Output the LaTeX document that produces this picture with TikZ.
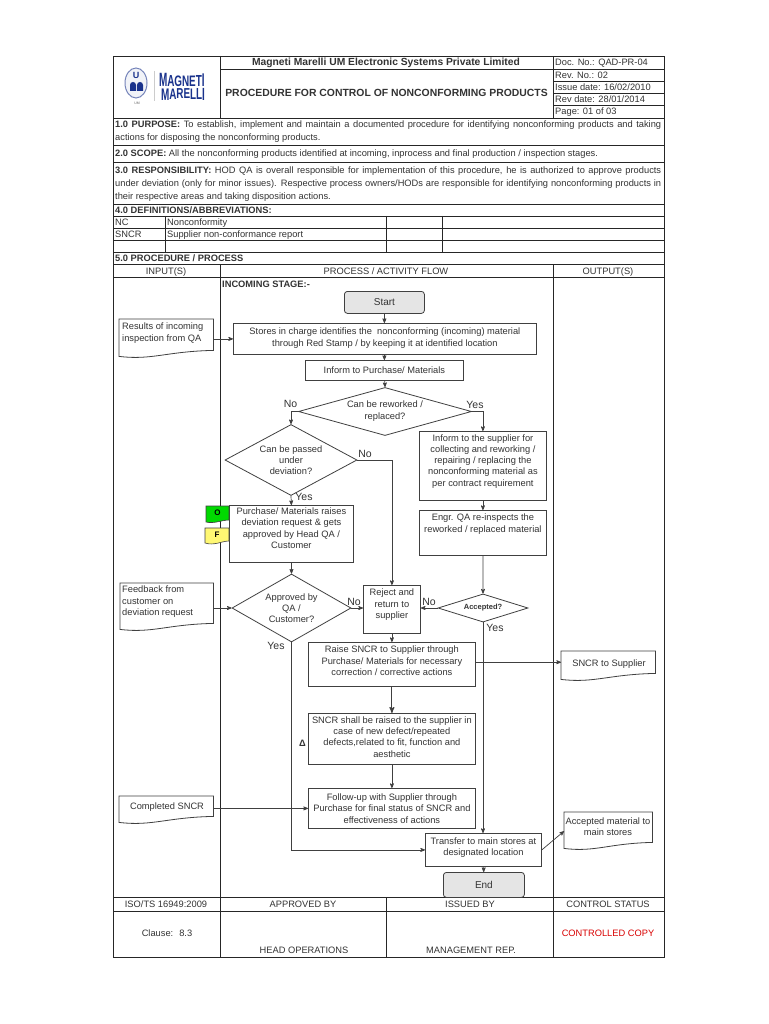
\documentclass[tikz,border=0pt]{standalone}
\usepackage{fontspec}
\setmainfont{Liberation Sans}
\usepackage{tikz}
\usetikzlibrary{arrows,shapes.geometric,calc}

\definecolor{linegray}{gray}{0.25}
\definecolor{textgray}{gray}{0.2}
\definecolor{logoblue}{RGB}{25,50,140}

\begin{document}
\begin{tikzpicture}[x=1pt,y=-1pt,>=stealth',font=\fontsize{9.3}{11.3}\selectfont,text=textgray]
  \tikzstyle{frame}=[draw=black!85,line width=0.9pt]
  \tikzstyle{flowbox}=[rectangle,draw=linegray,line width=0.8pt,fill=white,align=center,inner sep=0pt,anchor=north west]
  \tikzstyle{startend}=[flowbox,rounded corners=3pt,fill=black!10,font=\fontsize{10}{12}\selectfont]
  \tikzstyle{decision}=[draw=linegray,line width=0.8pt,fill=white]
  \tikzstyle{doctext}=[rectangle,align=left,inner sep=0pt,anchor=north west]
  \tikzstyle{celltext}=[inner sep=0pt,text height=6.6pt,text depth=0pt]
  \tikzstyle{tablecell}=[celltext,anchor=west]
  \tikzstyle{para}=[inner sep=0pt,anchor=north west,text width=546pt,align=justify,font=\fontsize{9.3}{13}\selectfont]
  \tikzstyle{tag}=[inner sep=0pt,font=\fontsize{8}{9}\selectfont\bfseries,text=black]
  \tikzstyle{answer}=[inner sep=0pt,font=\fontsize{10.5}{12}\selectfont]
  \tikzstyle{logoletter}=[inner sep=0pt,text=logoblue,xscale=.62,font=\fontsize{16}{16}\selectfont\bfseries]
  \tikzstyle{flow}=[->,draw=linegray,line width=0.7pt]
  \useasboundingbox (0,0) rectangle (768,1024);
  \fill[white] (0,0) rectangle (768,1024);

  % table frame
  \draw[frame] (113,56) rectangle (664,957);
  \foreach \y in {118,145,162,204,216,228,240,252,264,277,897,911}
    \draw[frame] (113,\y) -- (664,\y);
  \draw[frame] (220,56) -- (220,118);
  \draw[frame] (220,69) -- (553,69);
  \draw[frame] (553,56) -- (553,118);
  \foreach \y in {69,81,93,105}
    \draw[frame] (553,\y) -- (664,\y);
  \draw[frame] (165,216) -- (165,252);
  \foreach \x in {386,442} \draw[frame] (\x,216) -- (\x,252);
  \draw[frame] (220,264) -- (220,957);
  \draw[frame] (553,264) -- (553,957);
  \draw[frame] (386,897) -- (386,957);

  % logo
  \draw[logoblue!60,line width=1pt,fill=logoblue!6] (136,83) ellipse (11 and 15);
  \node[inner sep=0pt,text=logoblue,font=\fontsize{9}{9}\selectfont\bfseries] (logou) at (136,75.5) {U};
  \fill[logoblue] (130,91) -- (130,85) .. controls (130,81) and (136,81) .. (136,85) -- (136,91) -- cycle;
  \fill[logoblue] (137,91) -- (137,85) .. controls (137,81) and (143,81) .. (143,85) -- (143,91) -- cycle;
  \node[inner sep=0pt,text=black!60,font=\fontsize{3.5}{4}\selectfont] (logoum) at (137,103) {UM};
  \draw[black!20,line width=0.8pt] (154,71) -- (154,101);
  \foreach \ch/\x/\s in {M/163.2/1.2,A/170.9/1,G/178.3/.95,N/185.7/.95,E/192.5/.95,T/198.8/1,I/203.2/1.15}
    \node[logoletter,anchor=south,yscale=\s] at (\x,87) {\ch};
  \foreach \ch/\x/\s in {M/165.2/1.05,A/172.9/.95,R/180/.9,E/186.9/.9,L/193.2/.95,L/199.2/1,I/203.6/1.1}
    \node[logoletter,anchor=north,yscale=\s] at (\x,88.5) {\ch};

  % header
  \node[celltext,font=\fontsize{10.3}{12}\selectfont\bfseries] (company) at (386,62.5) {Magneti Marelli UM Electronic Systems Private Limited};
  \node[celltext,font=\fontsize{10.4}{12}\selectfont\bfseries] (title) at (386.5,93) {PROCEDURE FOR CONTROL OF NONCONFORMING PRODUCTS};
  \node[tablecell] (docno) at (555,62) {Doc. No.: QAD-PR-04};
  \node[tablecell] (revno) at (555,75) {Rev. No.: 02};
  \node[tablecell] (issue) at (555,87) {Issue date: 16/02/2010};
  \node[tablecell] (revdate) at (555,99) {Rev date: 28/01/2014};
  \node[tablecell] (page) at (555,111) {Page: 01 of 03};

  % sections
  \node[para] (purpose) at (115,120.5) {\textbf{1.0 PURPOSE:} To establish, implement and maintain a documented procedure for identifying nonconforming products and taking\linebreak actions for disposing the nonconforming products.};
  \node[tablecell] (scope) at (115,153.5) {\textbf{2.0 SCOPE:} All the nonconforming products identified at incoming, inprocess and final production / inspection stages.};
  \node[para] (resp) at (115,167) {\textbf{3.0 RESPONSIBILITY:} HOD QA is overall responsible for implementation of this procedure, he is authorized to approve products\linebreak under deviation (only for minor issues). Respective process owners/HODs are responsible for identifying nonconforming products in\linebreak their respective areas and taking disposition actions.};
  \node[tablecell,font=\fontsize{9.3}{11}\selectfont\bfseries] (defs) at (115,210) {4.0 DEFINITIONS/ABBREVIATIONS:};
  \node[tablecell] (nc) at (115,222) {NC};
  \node[tablecell] (ncdef) at (167,222) {Nonconformity};
  \node[tablecell] (sncr) at (115,234) {SNCR};
  \node[tablecell] (sncrdef) at (167,234) {Supplier non-conformance report};
  \node[tablecell,font=\fontsize{9.3}{11}\selectfont\bfseries] (proc) at (115,258) {5.0 PROCEDURE / PROCESS};
  \node[celltext] (inputs) at (166,271) {INPUT(S)};
  \node[celltext] (activity) at (386,271) {PROCESS / ACTIVITY FLOW};
  \node[celltext] (outputs) at (608,271) {OUTPUT(S)};
  \node[tablecell,font=\fontsize{9.3}{11}\selectfont\bfseries] (incoming) at (222,284) {INCOMING STAGE:-};

  % flow boxes
  \node[startend,minimum width=80pt,minimum height=22pt] (start) at (344,291) {Start};
  \node[flowbox,minimum width=303pt,minimum height=31pt] (stores) at (233,323) {Stores in charge identifies the~ nonconforming (incoming) material\\through Red Stamp / by keeping it at identified location\\[-8pt]\ };
  \node[flowbox,minimum width=158pt,minimum height=20pt] (inform) at (305,360) {\raisebox{1.5pt}{Inform to Purchase/ Materials}};
  \node[flowbox,minimum width=124pt,minimum height=57pt] (raise) at (229,505) {Purchase/ Materials raises\\deviation request \& gets\\approved by Head QA /\\Customer\\\ };
  \node[flowbox,minimum width=127pt,minimum height=69pt] (supplier) at (419,431) {Inform to the supplier for\\collecting and reworking /\\repairing / replacing the\\nonconforming material as\\per contract requirement\\\ };
  \node[flowbox,minimum width=127pt,minimum height=45pt] (engr) at (419,510) {Engr. QA re-inspects the\\reworked / replaced material\\[8pt]\ };
  \node[flowbox,minimum width=57pt,minimum height=48pt] (reject) at (363,585) {Reject and\\return to\\supplier\\\ };
  \node[flowbox,minimum width=167pt,minimum height=44pt] (sncrraise) at (308,642) {Raise SNCR to Supplier through\\Purchase/ Materials for necessary\\correction / corrective actions\\[-4pt]\ };
  \node[flowbox,minimum width=167pt,minimum height=51pt] (sncrnew) at (308,713) {SNCR shall be raised to the supplier in\\case of new defect/repeated\\defects,related to fit, function and\\aesthetic\\[-7pt]\ };
  \node[flowbox,minimum width=167pt,minimum height=40pt] (follow) at (308,788) {Follow-up with Supplier through\\Purchase for final status of SNCR and\\effectiveness of actions};
  \node[flowbox,minimum width=116pt,minimum height=33pt] (transfer) at (425,833) {Transfer to main stores at\\designated location\\[-5pt]\ };
  \node[startend,minimum width=81pt,minimum height=25pt] (end) at (443,872) {End};

  % decisions
  \node[diamond,decision,inner sep=0pt,minimum width=0pt,text width=173pt,align=center,aspect=3.6,minimum height=47pt] (rework) at (385,411.5) {};
  \node[inner sep=0pt,align=center] (reworktext) at (385,411) {Can be reworked /\\replaced?};
  \node[diamond,decision,inner sep=0pt,text width=132pt,aspect=1.86,minimum height=71pt] (pass) at (291,460) {};
  \node[inner sep=0pt,align=center] (passtext) at (291,460) {Can be passed\\under\\deviation?};
  \node[diamond,decision,inner sep=0pt,text width=119pt,aspect=1.75,minimum height=68pt] (appr) at (291.5,608) {};
  \node[inner sep=0pt,align=center] (apprtext) at (291.5,608) {Approved by\\QA /\\Customer?};
  \node[diamond,decision,inner sep=0pt,text width=90pt,aspect=3.2,minimum height=28pt] (acc) at (483,608) {};
  \node[inner sep=0pt,font=\fontsize{7.5}{8}\selectfont\bfseries] (acctext) at (483,608) {Accepted?};

  % documents
  \node[doctext,minimum width=94pt,minimum height=31pt] (results) at (119,319) {};
  \node[doctext,minimum width=93pt,minimum height=40pt] (feedback) at (120,583) {};
  \node[doctext,minimum width=94pt,minimum height=20pt] (completed) at (119,796) {};
  \node[doctext,minimum width=94pt,minimum height=22pt] (sncrout) at (561,651) {};
  \node[doctext,minimum width=88pt,minimum height=30pt] (accepted) at (564,812) {};
  \foreach \d in {results,feedback,completed,sncrout,accepted}
    \draw[draw=linegray,line width=0.8pt,fill=white] (\d.north west) -- (\d.north east) -- (\d.south east)
      .. controls ($(\d.south east)!0.5!(\d.south west)+(0,1)$) and ($(\d.south east)!0.65!(\d.south west)+(0,10)$) .. ($(\d.south west)+(0,6)$) -- cycle;
  \node[inner sep=0pt,align=left,anchor=north west] (resultstext) at (122,323) {Results of incoming\\inspection from QA};
  \node[inner sep=0pt,align=left,anchor=north west] (feedbacktext) at (122,586) {Feedback from\\customer on\\deviation request};
  \node[celltext] (completedtext) at (167,806) {Completed SNCR};
  \node[celltext] (sncrouttext) at (609,663) {SNCR to Supplier};
  \node[inner sep=0pt,align=center] (acceptedtext) at (608,826.5) {Accepted material to\\main stores};

  % O and F flags
  \draw[linegray,line width=0.6pt,fill=green!85!black] (206,506) -- (229,506) -- (229,520) .. controls (222,520) and (214,524) .. (206,522) -- cycle;
  \draw[linegray,line width=0.6pt,fill=yellow!55] (205,528) -- (229,528) -- (229,541) .. controls (222,541) and (214,546) .. (205,543) -- cycle;
  \node[tag] (otag) at (217.5,512.5) {O};
  \node[tag] (ftag) at (217,535) {F};
  \node[inner sep=0pt,font=\fontsize{9.3}{11}\selectfont\bfseries] (delta) at (302.5,743) {Δ};

  % connectors
  \draw[flow] (start) -- (start |- stores.north);
  \draw[flow] (stores.south -| inform) -- (inform);
  \draw[flow] (inform) -- (rework.north);
  \draw[flow] (results.east |- stores) -- (stores.west);
  \draw[flow] (rework.west) -- (pass.north |- rework.west) -- (pass.north);
  \draw[flow] (rework.east) -- (supplier.north |- rework.east) -- (supplier.north);
  \draw[flow] (pass.south) -- (raise.north);
  \draw[flow] (pass.east) -- (reject.north |- pass.east) -- (reject.north);
  \draw[flow] (raise.south) -- (appr.north);
  \draw[flow] (supplier) -- (engr);
  \draw[flow] (engr) -- (acc.north);
  \draw[flow] (feedback.east |- appr) -- (appr.west);
  \draw[flow] (appr.east) -- (reject.west |- appr.east);
  \draw[flow] (acc.west) -- (reject.east |- acc.west);
  \draw[flow] (reject.south) -- (reject.south |- sncrraise.north);
  \draw[flow,line width=1.1pt] (reject.south |- sncrraise.south) -- (reject.south |- sncrnew.north);
  \draw[flow] (reject.south |- sncrnew.south) -- (reject.south |- follow.north);
  \draw[flow] (sncrraise.east |- sncrout) -- (sncrout.west);
  \draw[flow] (completed.east |- follow) -- (follow.west);
  \draw[flow] (acc.south) -- (acc.south |- transfer.north);
  \draw[flow] (appr.south) -- (appr.south |- transfer.west) -- (transfer.west);
  \draw[flow] (transfer.east) -- ($(accepted.west)+(0,4)$);
  \draw[flow] (transfer) -- (end);

  % answers
  \node[answer] (a1) at (290.5,404) {No};
  \node[answer] (a2) at (475,405) {Yes};
  \node[answer] (a3) at (365,454) {No};
  \node[answer] (a4) at (304,497) {Yes};
  \node[answer] (a5) at (354,602) {No};
  \node[answer] (a6) at (429,602) {No};
  \node[answer] (a7) at (276,646) {Yes};
  \node[answer] (a8) at (495,628) {Yes};

  % footer
  \node[celltext] (iso) at (166,904) {ISO/TS 16949:2009};
  \node[celltext] (approved) at (303,904) {APPROVED BY};
  \node[celltext] (issued) at (470,904) {ISSUED BY};
  \node[celltext] (status) at (608,904) {CONTROL STATUS};
  \node[celltext] (clause) at (167,933) {Clause:~ 8.3};
  \node[celltext] (head) at (304,950) {HEAD OPERATIONS};
  \node[celltext] (mgmt) at (471,950) {MANAGEMENT REP.};
  \node[celltext,text=red!85!black] (copy) at (608,933) {CONTROLLED COPY};
\end{tikzpicture}
\end{document}
